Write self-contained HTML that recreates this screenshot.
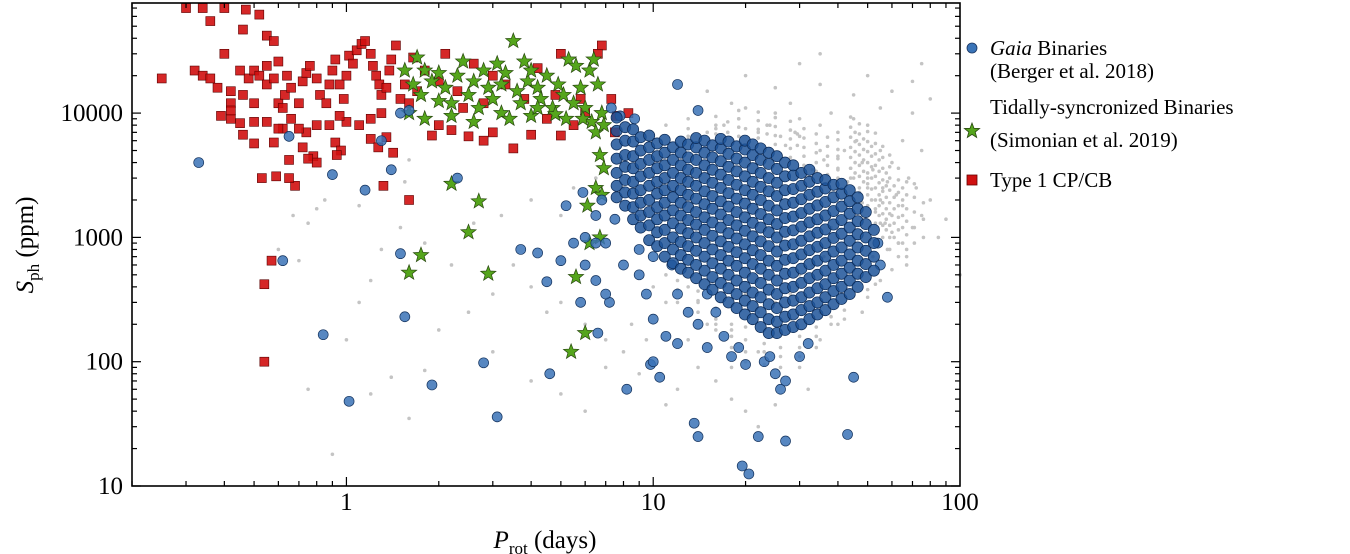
<!DOCTYPE html>
<html><head><meta charset="utf-8"><style>
html,body{margin:0;padding:0;background:#fff;}
svg{display:block;font-family:"Liberation Serif",serif;}
</style></head><body>
<svg id="chart" width="1350" height="554" viewBox="0 0 1350 554" xmlns="http://www.w3.org/2000/svg">
<g id="gray"></g>
<g id="red"></g>
<g id="green"></g>
<g id="blue"></g>
<rect x="132" y="3" width="828" height="483" fill="none" stroke="#000" stroke-width="1.6"/>
<g id="ticks"></g>
<g id="labels" font-size="25" fill="#000"></g>
<text x="545" y="548" font-size="25" text-anchor="middle"><tspan font-style="italic">P</tspan><tspan font-size="17" dy="6">rot</tspan><tspan dy="-6"> (days)</tspan></text>
<text transform="translate(33,245) rotate(-90)" font-size="25" text-anchor="middle"><tspan font-style="italic">S</tspan><tspan font-size="17" dy="6">ph</tspan><tspan dy="-6"> (ppm)</tspan></text>
<g font-size="21">
<circle cx="972" cy="48" r="5" fill="#3a74b8" stroke="#1a3560" stroke-width="0.8"/>
<text x="990" y="55"><tspan font-style="italic">Gaia</tspan> Binaries</text>
<text x="990" y="78">(Berger et al. 2018)</text>
<path id="legstar" fill="#55a51c" stroke="#2a4a10" stroke-width="0.8"/>
<text x="990" y="114">Tidally-syncronized Binaries</text>
<text x="990" y="147">(Simonian et al. 2019)</text>
<rect x="967" y="175" width="10" height="10" fill="#d01010" stroke="#600" stroke-width="0.8"/>
<text x="990" y="187">Type 1 CP/CB</text>
</g>
</svg>
<script>
const xTicks=[1,10,100];
const xTickLabels=["1","10","100"];
const yTicks=[10,100,1000,10000];
const yTickLabels=["10","100","1000","10000"];
const grayPts=[[45,3000],[50,2500],[55,2000],[60,1500],[48,4000],[52,3500],[58,2800],[62,2200],[65,1800],[70,1200],[75,1500],[42,5000],[46,6000],[55,5000],[60,4000],[68,3000],[72,2500],[80,2000],[85,1000],[90,1400],[40,7000],[35,8000],[30,9000],[25,10000],[20,11000],[18,12000],[28,12000],[38,10000],[50,8000],[65,6000],[75,5000],[70,10000],[80,13000],[60,15000],[45,14000],[35,17000],[25,16000],[20,20000],[30,25000],[50,20000],[15,15000],[40,3500],[43,2800],[47,2300],[53,1700],[57,1300],[63,900],[67,700],[52,700],[55,450],[60,550],[48,250],[40,200],[35,150],[30,90],[32,60],[25,45],[20,40],[18,50],[22,30],[16,70],[14,90],[12,60],[11,45],[9,80],[8,120],[7,150],[6,200],[5,300],[4.5,250],[4,400],[3.5,600],[3,350],[2.5,250],[2,180],[2.2,600],[1.8,900],[1.5,1200],[1.3,800],[1.2,450],[1.1,300],[1.0,150],[0.9,18],[1.2,55],[1.4,75],[1.6,35],[1.8,85],[0.75,60],[0.7,650],[0.75,1300],[0.8,1700],[0.67,1500],[0.6,800],[0.85,2000],[1.1,1800],[1.6,4200],[1.55,2800],[2.6,1300],[3.2,1500],[4,2000],[5,1500],[5.5,2500],[6.5,3000],[3,120],[4,70],[5,55],[6,40],[7,90],[8.5,200],[9.5,150],[10,400],[11,300],[13,150],[14,300],[16,200],[18,180],[20,350],[22,250],[25,300],[28,350],[30,500],[33,600],[36,700],[38,1200],[33,3500],[27,5500],[22,7000],[17,8000],[13,9000],[11,8000],[15,7000],[19,9000],[24,8000],[29,7000],[35,5000],[40,4500],[45,9000],[55,11000],[70,18000],[75,25000],[35,30000],[100,500],[30,6500],[26,6500],[20,7500],[16,7500],[36,4200],[44,3600],[50,3000],[56,2500],[48,1900],[55,1300],[60,1100],[58,800],[45,600],[40,400],[35,250],[28,220],[22,120],[18,90],[15,200],[13,400],[11,500],[9,1500],[8,2500]];
const grayRows=[[44,[3000,3600,4400,5300,6400,7700,9300]],[47,[2500,3100,3800,4600,5600,6800,8200,600,480]],[50,[1800,2200,2700,3300,4000,4900,5900,7100,380,330]],[53,[1300,1600,2000,2500,3100,3800,4700,5700,6900,420]],[56,[1000,1250,1550,1900,2350,2900,3600,4400,5400]],[59,[800,1000,1250,1550,1900,2400,3000,3700,4600]],[63,[700,900,1150,1450,1800,2300,2900,3600]],[67,[600,800,1050,1350,1700,2200,2800]],[71,[900,1200,1600,2100,2700]],[76,[1000,1400,1900]],[16,[6800,8000,9400]],[19,[6500,7700,9000,10500]],[22,[6300,7400,8700,10200]],[25,[5600,6600,7800,9200]],[28,[4400,5200,6200,7300,8600]],[31,[3800,4500,5300,6300,7500]],[34,[3400,4000,4800,5700,6800]],[37,[3200,3800,4500,5400,6400]],[40,[3000,3600,4300,5100,6100]],[12,[300,380,450]],[14,[250,310,370]],[16,[220,270,180]],[18,[200,160,130]],[20,[190,150,120,100]],[23,[140,120,95]],[26,[130,110,90]],[30,[160,130,110]],[34,[190,160,130]],[38,[230,200]],[42,[260,220]],[45.5,[3300,4000,4900,5900,7000]],[48.5,[2800,3400,4200,5100,6200]],[51.5,[2000,2450,3000,3700,4500,5400]],[54.5,[1500,1800,2200,2750,3400,4200]],[57.5,[1150,1400,1700,2100,2600,3300]],[61,[1000,1300,1700,2100,2600]],[65,[900,1200,1500,2000,2500]],[13,[6500,7500]],[17.5,[7000,8500]],[23.5,[6800,8000]],[29.5,[5500,6800]]];
const bluePts=[[0.33,4000],[0.62,650],[0.84,165],[1.02,48],[1.15,2400],[0.9,3200],[0.65,6500],[1.3,6000],[1.5,740],[1.55,230],[1.9,65],[2.8,98],[3.1,36],[4.6,80],[4.5,440],[3.7,800],[4.2,750],[1.5,10000],[1.6,10500],[1.4,3500],[2.3,3000],[5.2,1800],[5.9,2300],[6.5,900],[6.6,170],[7.2,300],[8.2,60],[9.8,95],[10.5,75],[13.6,32],[14,25],[19.5,14.5],[20.5,12.5],[22,25],[27,23],[43,26],[45,75],[58,330],[12,17000],[8.7,9000],[14,10500],[7.3,11000],[7.8,9500],[6.8,2000],[7.5,1400],[6.5,1500],[7,900],[8,600],[9,500],[9.5,350],[10,220],[11,160],[10,100],[12,140],[12,350],[13,250],[6,1000],[5.5,900],[6,600],[5,650],[6.5,450],[7,350],[5.8,300],[9,800],[11.5,600],[10,700],[15,350],[16,250],[14,200],[15,130],[17,160],[18,110],[19,130],[20,95],[23,100],[25,80],[26,60],[27,70],[24,110],[30,110],[32,140],[55,600],[54,900]];
const blueRows=[[7.6,[2100,2600,3300,4300,5600,7200,9200]],[8.1,[1800,2300,2900,3700,4600,6000,7700]],[8.6,[1400,1750,2250,2800,3600,4500,5900,7400]],[9.1,[1200,1500,1900,2400,3100,3900,5000,6400]],[9.7,[950,1250,1600,2000,2600,3300,4200,5300,6600]],[10.3,[850,1100,1400,1750,2250,2800,3600,4500,5700]],[10.9,[700,900,1150,1500,1900,2400,3000,3800,4800,6100]],[11.6,[620,800,1000,1300,1650,2100,2600,3300,4200,5300]],[12.3,[560,720,920,1180,1500,1900,2400,3000,3800,4800,5900]],[13.0,[520,660,850,1080,1380,1750,2200,2800,3500,4400,5600]],[13.8,[470,600,780,1000,1270,1600,2050,2600,3300,4200,5300,6300]],[14.7,[420,540,700,900,1150,1450,1850,2350,3000,3800,4800,6000]],[15.6,[380,480,620,800,1030,1320,1700,2150,2750,3500,4400,5500]],[16.6,[330,430,560,720,930,1200,1530,1950,2500,3200,4100,5200,6200]],[17.6,[300,390,500,650,840,1080,1380,1770,2270,2900,3700,4700,5900]],[18.7,[270,350,450,590,760,980,1250,1600,2050,2650,3400,4300,5400]],[19.9,[240,310,400,520,680,880,1130,1450,1870,2400,3100,4000,5100,6000]],[21.1,[220,280,360,470,610,790,1020,1310,1700,2200,2800,3600,4600,5600]],[22.4,[190,250,330,430,560,720,930,1200,1540,2000,2550,3300,4200,5200]],[23.8,[170,220,290,380,500,650,850,1100,1400,1800,2350,3000,3900,4800]],[25.3,[170,210,270,350,450,590,770,1000,1280,1650,2150,2750,3550,4500]],[26.9,[180,230,300,390,510,660,860,1110,1430,1850,2400,3100,4000]],[28.6,[190,240,310,400,520,680,880,1140,1470,1900,2450,3150,3800]],[30.4,[200,260,330,430,560,730,940,1220,1570,2030,2600,3300]],[32.3,[220,280,360,470,610,790,1020,1320,1700,2200,2800,3500]],[34.3,[240,300,390,500,650,840,1090,1400,1810,2330,3000]],[36.4,[260,330,420,540,700,900,1160,1500,1930,2480,2900]],[38.7,[290,370,470,600,770,990,1270,1630,2100,2650]],[41.1,[320,400,510,650,830,1070,1380,1770,2250,2700]],[43.7,[350,450,570,730,940,1200,1550,1950,2400]],[46.4,[400,510,650,830,1060,1350,1700,2100]],[49.3,[480,610,780,1000,1280,1600]],[52.4,[540,700,900,1150]]];
const redPts=[[0.25,19000],[0.3,70000],[0.34,70000],[0.4,70000],[0.47,68000],[0.36,55000],[0.46,47000],[0.52,62000],[0.55,42000],[0.58,38000],[0.6,26000],[0.4,30000],[0.32,22000],[0.34,20000],[0.36,19000],[0.38,16000],[0.42,15000],[0.42,9000],[0.42,12000],[0.39,9500],[0.46,14000],[0.5,12000],[0.48,19000],[0.45,22000],[0.5,22000],[0.52,20000],[0.55,24000],[0.55,17000],[0.58,19000],[0.6,12000],[0.62,11000],[0.63,14000],[0.64,20000],[0.66,16000],[0.7,12000],[0.72,18000],[0.74,21000],[0.76,24000],[0.8,19000],[0.82,14000],[0.86,12000],[0.88,17000],[0.9,22000],[0.92,27000],[0.95,17000],[0.98,13000],[1.0,20000],[1.02,29000],[1.05,25000],[1.08,32000],[1.12,36000],[1.15,38000],[1.2,30000],[1.22,24000],[1.25,20000],[1.28,17000],[1.3,14000],[1.35,16000],[1.38,22000],[1.4,27000],[1.45,35000],[1.5,13000],[1.55,17000],[1.6,12000],[1.3,10000],[1.2,9000],[1.1,8000],[1.0,8500],[0.95,9500],[0.88,8000],[0.8,8000],[0.74,7000],[0.7,7500],[0.66,9000],[0.62,7500],[0.6,7500],[0.55,8500],[0.5,8500],[0.46,6700],[0.42,10500],[0.5,5700],[0.45,8300],[0.58,5800],[0.65,4200],[0.72,5300],[0.78,4500],[0.8,4000],[0.75,4300],[0.92,5800],[0.96,5000],[0.93,4600],[1.2,6200],[1.27,5300],[1.35,6400],[1.42,4800],[1.32,2600],[0.68,2600],[0.53,3000],[0.59,3100],[0.65,3000],[0.54,420],[0.57,650],[0.54,100],[1.6,2000],[1.9,6600],[2.0,8000],[2.2,7300],[2.5,6500],[2.8,6000],[3.0,7000],[3.5,5200],[4.0,6700],[4.5,9000],[5.0,6600],[5.5,8000],[1.8,22000],[2.0,18000],[2.3,15000],[2.6,25000],[3.0,20000],[3.3,17000],[3.8,13000],[4.2,23000],[5.0,30000],[5.8,13000],[6.0,10000],[6.8,35000],[6.6,30000],[7.6,9500],[7.5,7000],[8.3,10000],[7.3,13000],[4.8,14000],[2.4,11000],[2.8,12000],[1.7,15000],[1.65,28000],[2.1,30000]];
const greenPts=[[1.55,22000],[1.7,28000],[1.8,22000],[1.65,17000],[1.75,14000],[1.9,18000],[2.0,21000],[2.1,16000],[2.2,12000],[2.3,20000],[2.4,26000],[2.5,14000],[2.6,18000],[2.7,11000],[2.8,22000],[2.9,16000],[3.0,13000],[3.1,25000],[3.2,17000],[3.3,21000],[3.5,38000],[3.6,15000],[3.7,12000],[3.8,26000],[3.9,18000],[4.0,22000],[4.2,16000],[4.3,13000],[4.5,20000],[4.7,11000],[4.9,17000],[5.1,14000],[5.3,27000],[5.5,12000],[5.6,24000],[5.8,16000],[6.0,11000],[6.2,22000],[6.4,27000],[6.6,17000],[6.8,10000],[6.3,8500],[6.5,7000],[5.9,9000],[1.6,10000],[1.8,9000],[2.2,9500],[2.6,8500],[3.2,10000],[4.0,9500],[4.8,9800],[6.7,4600],[6.9,3600],[6.5,2500],[6.8,2200],[6.1,1800],[6.7,1000],[6.2,900],[5.6,480],[6.0,170],[5.4,120],[2.9,510],[2.5,1100],[2.7,1950],[2.2,2700],[1.75,720],[1.6,520],[4.2,11000],[2.0,12500],[3.4,9000],[5.2,9000],[6.9,8000]];

const NS="http://www.w3.org/2000/svg";
const X0=132,X1=960,Y0=486,Y1=3,LXMIN=Math.log10(0.2),LXMAX=2,LYMIN=1,LYMAX=1+(Y0-Y1)/124.3;
function xPx(p){return X0+(Math.log10(p)-LXMIN)/(LXMAX-LXMIN)*(X1-X0);}
function yPx(s){return Y0-(Math.log10(s)-LYMIN)/(LYMAX-LYMIN)*(Y0-Y1);}
function mk(tag,attrs){const e=document.createElementNS(NS,tag);for(const k in attrs)e.setAttribute(k,attrs[k]);return e;}
function starPath(cx,cy,R){const r=R*0.42;let d="";for(let i=0;i<10;i++){const a=-Math.PI/2+i*Math.PI/5;const rr=i%2?r:R;d+=(i?"L":"M")+(cx+rr*Math.cos(a)).toFixed(1)+","+(cy+rr*Math.sin(a)).toFixed(1);}return d+"Z";}
document.getElementById('legstar').setAttribute('d',starPath(972,131,8));

const allGray=grayPts.slice();
grayRows.forEach(r=>r[1].forEach(s=>allGray.push([r[0],s])));
const blobBlue=[];
blueRows.forEach(r=>r[1].forEach(s=>blobBlue.push([r[0],s])));

const gG=document.getElementById('gray');
allGray.forEach(p=>{const c=mk('circle',{cx:xPx(p[0]),cy:yPx(p[1]),r:1.8,fill:'#c4c4c4'});


gG.appendChild(c);});
const gR=document.getElementById('red');
redPts.forEach(p=>{const s=mk('rect',{x:xPx(p[0])-4.5,y:yPx(p[1])-4.5,width:9,height:9,fill:'#d01010','fill-opacity':0.9,stroke:'#5a0000','stroke-width':0.6});


gR.appendChild(s);});
const gGr=document.getElementById('green');
greenPts.forEach(p=>{const s=mk('path',{d:starPath(xPx(p[0]),yPx(p[1]),8),fill:'#55a51c',stroke:'#2a4a10','stroke-width':0.7});


gGr.appendChild(s);});
const gB=document.getElementById('blue');
bluePts.forEach(p=>{const c=mk('circle',{cx:xPx(p[0]),cy:yPx(p[1]),r:5,fill:'#3a72b6','fill-opacity':0.85,stroke:'#14335e','stroke-width':0.7});


gB.appendChild(c);});
blobBlue.forEach(p=>{const c=mk('circle',{cx:xPx(p[0]),cy:yPx(p[1]),r:5.6,fill:'#1d5499','fill-opacity':0.85,stroke:'#0c2a55','stroke-width':0.7});


gB.appendChild(c);});

const gT=document.getElementById('ticks');
function tick(x1,y1,x2,y2){const l=mk('line',{x1:x1,y1:y1,x2:x2,y2:y2,stroke:'#000','stroke-width':1.2});


gT.appendChild(l);}
[0.1,1,10].forEach(d=>{for(let m=1;m<10;m++){const v=d*m;if(v<0.2||v>100)continue;const x=xPx(v);const L=(m===1)?9:5;tick(x,Y0,x,Y0-L);tick(x,Y1,x,Y1+L);}});
[10,100,1000,10000].forEach(d=>{for(let m=1;m<10;m++){const v=d*m;const y=yPx(v);if(y<Y1)continue;const L=(m===1)?9:5;tick(X0,y,X0+L,y);tick(X1,y,X1-L,y);}});
const gL=document.getElementById('labels');
xTicks.forEach((v,i)=>{const t=mk('text',{x:xPx(v),y:510,'text-anchor':'middle'});t.textContent=xTickLabels[i];


gL.appendChild(t);});
yTicks.forEach((v,i)=>{const t=mk('text',{x:123,y:yPx(v)+8,'text-anchor':'end'});t.textContent=yTickLabels[i];


gL.appendChild(t);});
</script>
</body></html>
